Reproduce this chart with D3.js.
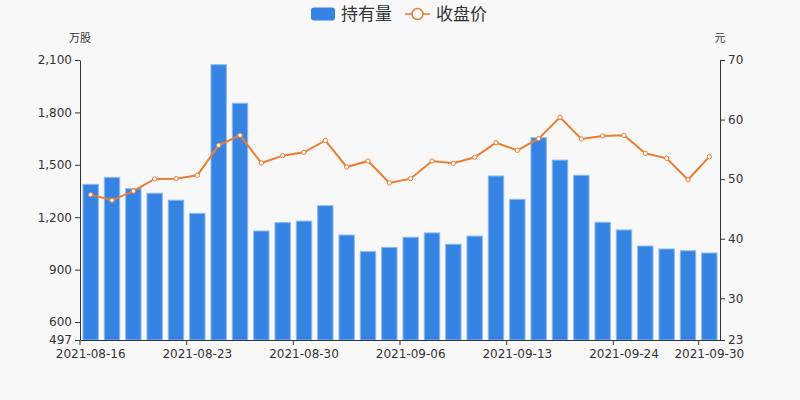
<!DOCTYPE html>
<html>
<head>
<meta charset="utf-8">
<script src="https://cdn.jsdelivr.net/npm/d3@7"></script>
<style>
  body { margin: 0; background: #f8f8f8; }
  svg { display: block; font-family: "DejaVu Sans", "Noto Sans CJK SC", sans-serif; }
  .axis text { fill: #333; font-size: 12px; font-family: "DejaVu Sans", "Noto Sans CJK SC", sans-serif; }
  .axis path, .axis line { stroke: #333; }
</style>
</head>
<body>
<svg></svg>
<script>
const dates = [
  "2021-08-16", "2021-08-17", "2021-08-18", "2021-08-19", "2021-08-20",
  "2021-08-23", "2021-08-24", "2021-08-25", "2021-08-26", "2021-08-27",
  "2021-08-30", "2021-08-31", "2021-09-01", "2021-09-02", "2021-09-03",
  "2021-09-06", "2021-09-07", "2021-09-08", "2021-09-09", "2021-09-10",
  "2021-09-13", "2021-09-14", "2021-09-15", "2021-09-16", "2021-09-17",
  "2021-09-24", "2021-09-27", "2021-09-28", "2021-09-29", "2021-09-30"
];
// 持有量 (万股)
const holdings = [
  1388, 1428, 1363, 1337, 1297, 1222, 2073, 1852, 1121, 1169,
  1178, 1266, 1098, 1003, 1027, 1085, 1110, 1045, 1092, 1436,
  1302, 1655, 1527, 1440, 1171, 1127, 1035, 1018, 1008, 995
];
// 收盘价 (元)
const closes = [
  47.4, 46.45, 48.0, 50.03, 50.08, 50.65, 55.68, 57.36, 52.71, 53.94,
  54.5, 56.5, 52.04, 53.05, 49.36, 50.08, 53.05, 52.66, 53.67, 56.12,
  54.84, 56.8, 60.38, 56.74, 57.25, 57.36, 54.34, 53.5, 49.9, 53.77
];
const leftTicks = [497, 600, 900, 1200, 1500, 1800, 2100];
const rightTicks = [23, 30, 40, 50, 60, 70];
const xTickDates = ["2021-08-16", "2021-08-23", "2021-08-30", "2021-09-06", "2021-09-13", "2021-09-24", "2021-09-30"];

const width = 800;
const height = 400;
const margin = { top: 60, right: 80, bottom: 60, left: 80 };
const innerWidth = width - margin.left - margin.right;
const innerHeight = height - margin.top - margin.bottom;

const barColor = "#3583e3";
const lineColor = "#ed7c30";

const svg = d3.select("svg").attr("width", width).attr("height", height);

const x = d3.scaleBand().domain(dates).range([0, innerWidth]);
const yL = d3.scaleLinear().domain([497, 2100]).range([innerHeight, 0]);
const yR = d3.scaleLinear().domain([23, 70]).range([innerHeight, 0]);
const bw = x.bandwidth();
const barW = bw * 0.72;

const g = svg.append("g").attr("transform", `translate(${margin.left},${margin.top})`);

// bars
g.selectAll("rect.bar")
  .data(holdings)
  .enter()
  .append("rect")
  .attr("class", "bar")
  .attr("x", (d, i) => x(dates[i]) + (bw - barW) / 2)
  .attr("y", (d) => yL(d))
  .attr("width", barW)
  .attr("height", (d) => innerHeight - yL(d))
  .attr("fill", barColor)
  .attr("stroke", "#8bb8f0")
  .attr("stroke-width", 1);

// x axis
const xAxisG = g.append("g")
  .attr("class", "axis")
  .attr("transform", `translate(0,${innerHeight})`)
  .call(d3.axisBottom(x).tickValues(xTickDates).tickSize(5).tickSizeOuter(0).tickPadding(4));
xAxisG.selectAll(".tick line").attr("x1", -bw / 2).attr("x2", -bw / 2);

// left axis
const yLAxisG = g.append("g")
  .attr("class", "axis")
  .call(d3.axisLeft(yL).tickValues(leftTicks).tickFormat(d3.format(",")).tickSize(5).tickSizeOuter(0));

// right axis
const yRAxisG = g.append("g")
  .attr("class", "axis")
  .attr("transform", `translate(${innerWidth},0)`)
  .call(d3.axisRight(yR).tickValues(rightTicks).tickSize(5).tickSizeOuter(0));

[xAxisG, yLAxisG, yRAxisG].forEach((a) => a.attr("font-family", null).attr("font-size", null));

// unit labels
g.append("text")
  .attr("x", 0)
  .attr("y", -18)
  .attr("text-anchor", "middle")
  .attr("fill", "#333")
  .style("font-size", "11px")
  .text("万股");
g.append("text")
  .attr("x", innerWidth)
  .attr("y", -18)
  .attr("text-anchor", "middle")
  .attr("fill", "#333")
  .style("font-size", "11px")
  .text("元");

// price line
const line = d3.line()
  .x((d, i) => x(dates[i]) + bw / 2)
  .y((d) => yR(d));

g.append("path")
  .datum(closes)
  .attr("d", line)
  .attr("fill", "none")
  .attr("stroke", lineColor)
  .attr("stroke-width", 2);

g.selectAll("circle.pt")
  .data(closes)
  .enter()
  .append("circle")
  .attr("class", "pt")
  .attr("cx", (d, i) => x(dates[i]) + bw / 2)
  .attr("cy", (d) => yR(d))
  .attr("r", 2.2)
  .attr("fill", "#fff")
  .attr("stroke", lineColor)
  .attr("stroke-width", 1);

// legend
const legend = svg.append("g");
legend.append("rect")
  .attr("x", 311).attr("y", 7.5)
  .attr("width", 24).attr("height", 13)
  .attr("rx", 3)
  .attr("fill", barColor);
legend.append("text")
  .attr("x", 341).attr("y", 20)
  .attr("fill", "#333")
  .style("font-size", "17px")
  .style("font-family", "'Noto Sans CJK SC', sans-serif")
  .text("持有量");
legend.append("line")
  .attr("x1", 405).attr("x2", 430).attr("y1", 14).attr("y2", 14)
  .attr("stroke", lineColor).attr("stroke-width", 1.5);
legend.append("circle")
  .attr("cx", 417.5).attr("cy", 14).attr("r", 5.5)
  .attr("fill", "#fff").attr("stroke", lineColor).attr("stroke-width", 1.5);
legend.append("text")
  .attr("x", 436).attr("y", 20)
  .attr("fill", "#333")
  .style("font-size", "17px")
  .style("font-family", "'Noto Sans CJK SC', sans-serif")
  .text("收盘价");
</script>
</body>
</html>
